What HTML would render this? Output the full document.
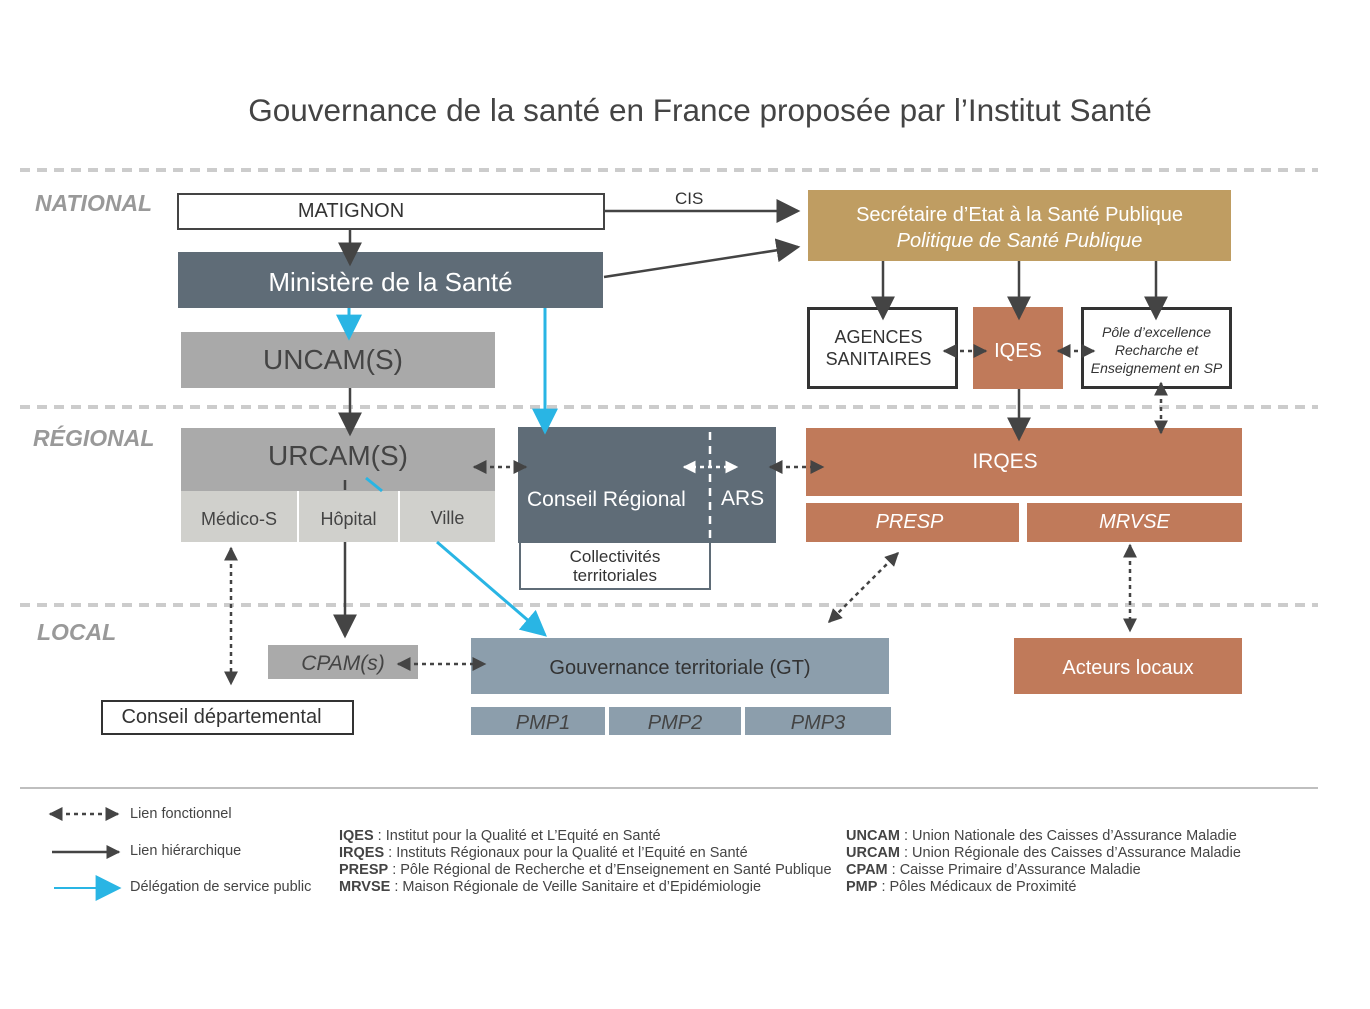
<!DOCTYPE html>
<html><head><meta charset="utf-8"><style>
body{margin:0;background:#fff;font-family:"Liberation Sans",sans-serif;}
#c{position:relative;width:1370px;height:1009px;overflow:hidden;}
.b{position:absolute;box-sizing:border-box;display:flex;align-items:center;justify-content:center;text-align:center;}
.t{position:absolute;white-space:nowrap;}
.lbl{position:absolute;font-style:italic;font-weight:bold;color:#999;font-size:23px;}
.leg{position:absolute;font-size:14.5px;color:#444;line-height:17px;white-space:nowrap;}
</style></head><body><div id="c">
<div class="t" style="left:0;width:1400px;text-align:center;top:92px;font-size:31.5px;color:#444;">Gouvernance de la santé en France proposée par l’Institut Santé</div>
<div class="lbl" style="left:35px;top:190px;">NATIONAL</div>
<div class="lbl" style="left:33px;top:425px;">RÉGIONAL</div>
<div class="lbl" style="left:37px;top:619px;">LOCAL</div>

<div class="b" style="left:177px;top:193px;width:428px;height:37px;border:2px solid #444;font-size:20px;color:#333;padding-right:80px;">MATIGNON</div>
<div class="b" style="left:178px;top:252px;width:425px;height:56px;background:#5f6c77;color:#fff;font-size:26px;padding-top:4px;">Ministère de la Santé</div>
<div class="b" style="left:181px;top:332px;width:314px;height:56px;background:#a9a9a9;color:#444;font-size:28px;padding-right:10px;">UNCAM(S)</div>
<div class="b" style="left:808px;top:190px;width:423px;height:71px;background:#bf9d62;color:#fff;font-size:20px;line-height:26px;flex-direction:column;padding-top:4px;">Secrétaire d’Etat à la Santé Publique<i>Politique de Santé Publique</i></div>
<div class="b" style="left:807px;top:307px;width:151px;height:82px;border:3px solid #333;font-size:18px;color:#333;line-height:22px;padding-right:8px;">AGENCES<br>SANITAIRES</div>
<div class="b" style="left:973px;top:307px;width:90px;height:82px;background:#c07a5a;color:#fff;font-size:20px;padding-top:6px;">IQES</div>
<div class="b" style="left:1081px;top:307px;width:151px;height:82px;border:3px solid #333;font-size:14px;font-style:italic;color:#333;line-height:18px;padding-top:4px;">Pôle d’excellence<br>Recharche et<br>Enseignement en SP</div>

<div class="b" style="left:181px;top:428px;width:314px;height:63px;background:#aaa;color:#444;font-size:28px;padding-bottom:8px;">URCAM(S)</div>
<div class="b" style="left:181px;top:491px;width:116px;height:51px;background:#d0d0cc;color:#444;font-size:18px;padding-top:6px;">Médico-S</div>
<div class="b" style="left:299px;top:491px;width:99px;height:51px;background:#d0d0cc;color:#444;font-size:18px;padding-top:6px;">Hôpital</div>
<div class="b" style="left:400px;top:491px;width:95px;height:51px;background:#d0d0cc;color:#444;font-size:18px;padding-top:4px;">Ville</div>
<div class="b" style="left:518px;top:427px;width:258px;height:116px;background:#5f6c77;"></div>
<div class="t" style="left:527px;top:488px;color:#fff;font-size:21px;">Conseil Régional</div>
<div class="t" style="left:721px;top:487px;color:#fff;font-size:21px;">ARS</div>
<div class="b" style="left:519px;top:543px;width:192px;height:47px;border:2px solid #5f6c77;border-top:none;font-size:17px;color:#333;line-height:19px;">Collectivités<br>territoriales</div>
<div class="b" style="left:806px;top:428px;width:436px;height:68px;background:#c07a5a;color:#fff;font-size:21px;padding-right:38px;">IRQES</div>
<div class="b" style="left:806px;top:503px;width:213px;height:39px;background:#c07a5a;color:#fff;font-size:20px;font-style:italic;padding-right:6px;">PRESP</div>
<div class="b" style="left:1027px;top:503px;width:215px;height:39px;background:#c07a5a;color:#fff;font-size:20px;font-style:italic;">MRVSE</div>

<div class="b" style="left:268px;top:645px;width:150px;height:34px;background:#aaa;color:#444;font-size:21px;font-style:italic;padding-top:4px;">CPAM(s)</div>
<div class="b" style="left:471px;top:638px;width:418px;height:56px;background:#8c9eac;color:#333;font-size:20px;padding-top:4px;">Gouvernance territoriale (GT)</div>
<div class="b" style="left:471px;top:707px;width:134px;height:28px;background:#8c9eac;color:#444;font-size:20px;font-style:italic;padding-top:4px;padding-left:10px;">PMP1</div>
<div class="b" style="left:609px;top:707px;width:132px;height:28px;background:#8c9eac;color:#444;font-size:20px;font-style:italic;padding-top:4px;">PMP2</div>
<div class="b" style="left:745px;top:707px;width:146px;height:28px;background:#8c9eac;color:#444;font-size:20px;font-style:italic;padding-top:4px;">PMP3</div>
<div class="b" style="left:1014px;top:638px;width:228px;height:56px;background:#c07a5a;color:#fff;font-size:20px;padding-top:4px;">Acteurs locaux</div>
<div class="b" style="left:101px;top:700px;width:253px;height:35px;border:2px solid #333;font-size:20px;color:#333;padding-right:12px;">Conseil départemental</div>
<div class="t" style="left:675px;top:189px;font-size:17px;color:#333;">CIS</div>

<svg style="position:absolute;left:0;top:0" width="1370" height="1009">
<defs>
<marker id="s" viewBox="0 0 10 10" refX="9" refY="5" markerWidth="14" markerHeight="14" orient="auto-start-reverse" markerUnits="userSpaceOnUse"><path d="M0,0L10,5L0,10z" fill="#444"/></marker>
<marker id="w" viewBox="0 0 10 10" refX="9" refY="5" markerWidth="13" markerHeight="13" orient="auto-start-reverse" markerUnits="userSpaceOnUse"><path d="M0,0L10,5L0,10z" fill="#fff"/></marker>
<marker id="bl" viewBox="0 0 10 10" refX="9" refY="5" markerWidth="26" markerHeight="26" orient="auto" markerUnits="userSpaceOnUse"><path d="M0,0L10,5L0,10z" fill="#29b5e4"/></marker>
<marker id="bd" viewBox="0 0 10 10" refX="9" refY="5" markerWidth="24" markerHeight="24" orient="auto" markerUnits="userSpaceOnUse"><path d="M0,0L10,5L0,10z" fill="#444"/></marker>
</defs>
<g stroke="#ccc" stroke-width="4" stroke-dasharray="10 7">
<line x1="20" y1="170" x2="1318" y2="170"/><line x1="20" y1="407" x2="1318" y2="407"/><line x1="20" y1="605" x2="1318" y2="605"/>
</g>
<line x1="20" y1="788" x2="1318" y2="788" stroke="#999" stroke-width="1.2"/>
<g stroke="#444" stroke-width="2.5" fill="none">
<line x1="605" y1="211" x2="798" y2="211" marker-end="url(#bd)"/>
<line x1="604" y1="277" x2="798" y2="247" marker-end="url(#bd)"/>
<line x1="350" y1="230" x2="350" y2="264" marker-end="url(#bd)"/>
<line x1="350" y1="388" x2="350" y2="434" marker-end="url(#bd)"/>
<line x1="883" y1="261" x2="883" y2="318" marker-end="url(#bd)"/>
<line x1="1019" y1="261" x2="1019" y2="318" marker-end="url(#bd)"/>
<line x1="1156" y1="261" x2="1156" y2="318" marker-end="url(#bd)"/>
<line x1="1019" y1="389" x2="1019" y2="439" marker-end="url(#bd)"/>
<line x1="345" y1="480" x2="345" y2="490"/>
<line x1="345" y1="542" x2="345" y2="636" marker-end="url(#bd)"/>
</g>
<g stroke="#444" stroke-width="2.5" stroke-dasharray="4 4" fill="none">
<line x1="944" y1="351" x2="986" y2="351" marker-start="url(#s)" marker-end="url(#s)"/>
<line x1="1058" y1="351" x2="1094" y2="351" marker-start="url(#s)" marker-end="url(#s)"/>
<line x1="1161" y1="383" x2="1161" y2="433" marker-start="url(#s)" marker-end="url(#s)"/>
<line x1="474" y1="467" x2="526" y2="467" marker-start="url(#s)" marker-end="url(#s)"/>
<line x1="770" y1="467" x2="823" y2="467" marker-start="url(#s)" marker-end="url(#s)"/>
<line x1="231" y1="548" x2="231" y2="684" marker-start="url(#s)" marker-end="url(#s)"/>
<line x1="398" y1="664" x2="485" y2="664" marker-start="url(#s)" marker-end="url(#s)"/>
<line x1="898" y1="553" x2="829" y2="622" marker-start="url(#s)" marker-end="url(#s)"/>
<line x1="1130" y1="545" x2="1130" y2="631" marker-start="url(#s)" marker-end="url(#s)"/>
</g>
<g stroke="#fff" stroke-width="2.5" fill="none">
<line x1="710" y1="432" x2="710" y2="540" stroke-dasharray="8 6"/>
<line x1="684" y1="467" x2="737" y2="467" stroke-dasharray="4 4" marker-start="url(#w)" marker-end="url(#w)"/>
</g>
<g stroke="#29b5e4" stroke-width="3" fill="none">
<line x1="349" y1="308" x2="349" y2="338" marker-end="url(#bl)"/>
<line x1="545" y1="308" x2="545" y2="432" marker-end="url(#bl)"/>
<line x1="366" y1="478" x2="382" y2="491"/>
<line x1="437" y1="542" x2="545" y2="635" marker-end="url(#bl)"/>
</g>
<line x1="50" y1="814" x2="118" y2="814" stroke="#444" stroke-width="2.5" stroke-dasharray="4 4" marker-start="url(#s)" marker-end="url(#s)"/>
<line x1="52" y1="852" x2="119" y2="852" stroke="#444" stroke-width="2.5" marker-end="url(#s)"/>
<line x1="54" y1="888" x2="119" y2="888" stroke="#29b5e4" stroke-width="2" marker-end="url(#bl)"/>
</svg>
<div class="leg" style="left:130px;top:806px;">Lien fonctionnel</div>
<div class="leg" style="left:130px;top:843px;">Lien hiérarchique</div>
<div class="leg" style="left:130px;top:879px;">Délégation de service public</div>
<div class="leg" style="left:339px;top:828px;"><b>IQES</b> : Institut pour la Qualité et L’Equité en Santé<br><b>IRQES</b> : Instituts Régionaux pour la Qualité et l’Equité en Santé<br><b>PRESP</b> : Pôle Régional de Recherche et d’Enseignement en Santé Publique<br><b>MRVSE</b> : Maison Régionale de Veille Sanitaire et d’Epidémiologie</div>
<div class="leg" style="left:846px;top:828px;"><b>UNCAM</b> : Union Nationale des Caisses d’Assurance Maladie<br><b>URCAM</b> : Union Régionale des Caisses d’Assurance Maladie<br><b>CPAM</b> : Caisse Primaire d’Assurance Maladie<br><b>PMP</b> : Pôles Médicaux de Proximité</div>
</div></body></html>
